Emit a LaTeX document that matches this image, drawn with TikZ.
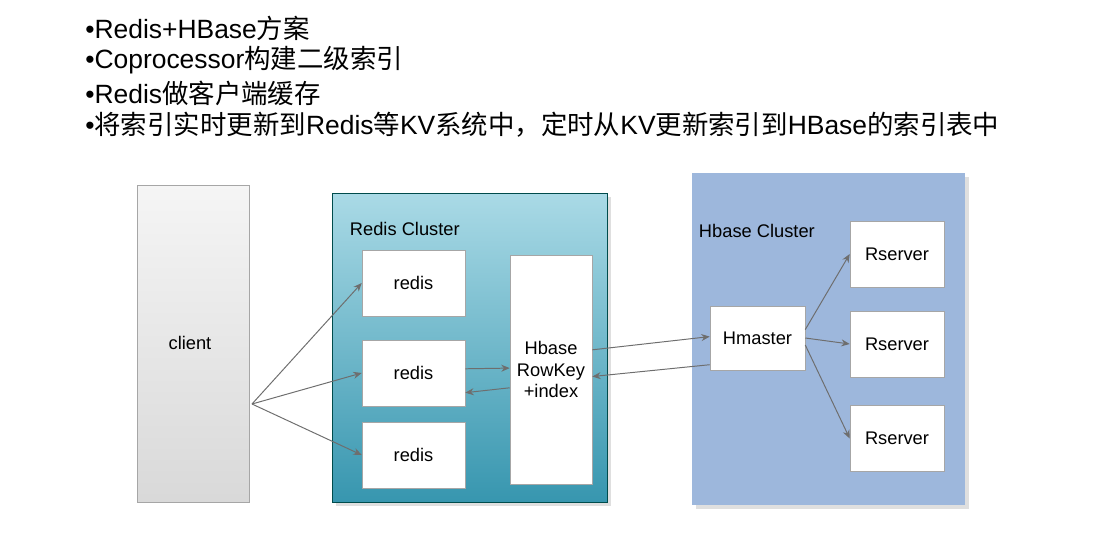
\documentclass[tikz,border=0pt]{standalone}
\usepackage{fontspec}
\setmainfont{Liberation Sans}
\newfontfamily\cjk{Noto Sans CJK SC}
\usetikzlibrary{arrows.meta,shadows}
\definecolor{edge}{HTML}{6E6E6E}
\definecolor{tealtop}{RGB}{170,218,230}
\definecolor{tealbot}{RGB}{55,150,175}
\definecolor{hbfill}{RGB}{157,183,220}
\tikzset{
  box/.style={draw=gray!70, fill=white, minimum width=103*0.025cm, minimum height=66*0.025cm, font=\fontsize{13}{15}\selectfont, align=center},
  conn/.style={-{Stealth[length=6pt,width=5pt]}, draw=edge, line width=0.7pt},
  bul/.style={anchor=west, font=\fontsize{18.8}{22}\selectfont, inner sep=0pt}
}
\begin{document}
\begin{tikzpicture}[x=0.025cm, y=-0.025cm]
\useasboundingbox (0,0) rectangle (1097,541);
% bullet text
\node[bul] (t1) at (85,28) {•Redis+HBase{\cjk 方案}};
\node[bul] (t2) at (85,60) {•Coprocessor{\cjk 构建二级索引}};
\node[bul] (t3) at (85,93) {•Redis{\cjk 做客户端缓存}};
\node[bul] (t4) at (85,125) {•{\cjk 将索引实时更新到}Redis{\cjk 等}KV{\cjk 系统中，定时从}KV{\cjk 更新索引到}HBase{\cjk 的索引表中}};
% client
\shade[top color=gray!8, bottom color=gray!30, draw=gray!70] (137,185) rectangle (249,502);
\node[font=\fontsize{13}{15}\selectfont] (client) at (190,343) {client};
\coordinate (c) at (252,404);
% redis cluster
\shade[top color=tealtop, bottom color=tealbot, draw=teal!60!black, drop shadow={opacity=0.25}] (332,193) rectangle (607,502);
\node[anchor=west, font=\fontsize{13}{15}\selectfont] (rcl) at (345,229) {Redis Cluster};
\node[box] (r1) at (413.5,283) {redis};
\node[box] (r2) at (413.5,373) {redis};
\node[box] (r3) at (413.5,455) {redis};
\node[box, minimum width=82*0.025cm, minimum height=229*0.025cm] (hb) at (551,369.5) {Hbase\\RowKey\\+index};
% hbase cluster
\fill[gray!25] (696,177) rectangle (969,509);
\fill[hbfill] (692,173) rectangle (965,505);
\node[anchor=west, font=\fontsize{13}{15}\selectfont] (hcl) at (694,231) {Hbase Cluster};
\node[box, minimum width=95*0.025cm, minimum height=64*0.025cm] (hm) at (757.5,338) {Hmaster};
\node[box, minimum width=94*0.025cm] (s1) at (897,254) {Rserver};
\node[box, minimum width=94*0.025cm] (s2) at (897,344) {Rserver};
\node[box, minimum width=94*0.025cm] (s3) at (897,438.5) {Rserver};
% connectors
\draw[conn] (c) -- (r1.west);
\draw[conn] (c) -- (r2.west);
\draw[conn] (c) -- (r3.west);
\draw[conn] ([yshift=3pt]r2.east) -- ([yshift=1pt]hb.west);
\draw[conn] ([yshift=-13pt]hb.west) -- ([yshift=-14pt]r2.east);
\draw[conn] ([yshift=14pt]hb.east) -- ([yshift=1pt]hm.west);
\draw[conn] ([yshift=-19pt]hm.west) -- ([yshift=-5pt]hb.east);
\draw[conn] ([yshift=6pt]hm.east) -- (s1.west);
\draw[conn] (hm.east) -- (s2.west);
\draw[conn] ([yshift=-5pt]hm.east) -- (s3.west);
\end{tikzpicture}
\end{document}
